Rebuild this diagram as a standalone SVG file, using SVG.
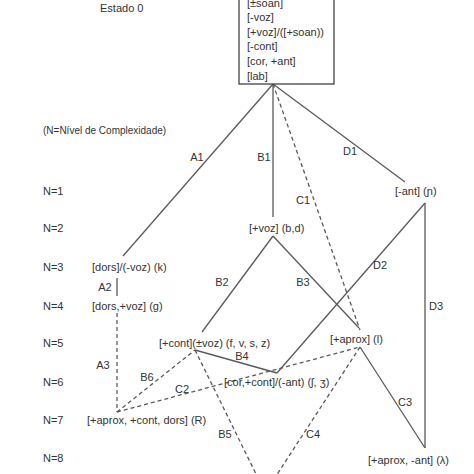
<svg xmlns="http://www.w3.org/2000/svg" width="474" height="474" viewBox="0 0 474 474">
<style>
text{font-family:"Liberation Sans",Arial,sans-serif;font-size:11px;fill:#333}
.lbl{text-anchor:middle}
.sm{font-size:10px}
.ln{stroke:#5a5a5a;stroke-width:1.3;fill:none}
.dash{stroke-dasharray:4 3}
</style>
<rect width="474" height="474" fill="#fff"/>
<g id="connectors">
<line class="ln" x1="273" y1="84" x2="123" y2="256"/>
<line class="ln" x1="273" y1="84" x2="273" y2="217"/>
<line class="ln" x1="273" y1="84" x2="405" y2="182"/>
<line class="ln dash" x1="273" y1="84" x2="360" y2="330"/>
<line class="ln" x1="273" y1="236" x2="202" y2="332"/>
<line class="ln" x1="273" y1="236" x2="359" y2="328"/>
<line class="ln" x1="425" y1="203" x2="277" y2="373"/>
<line class="ln" x1="425" y1="203" x2="425" y2="448"/>
<line class="ln" x1="117" y1="278" x2="117" y2="296"/>
<line class="ln dash" x1="117" y1="313" x2="117" y2="412"/>
<line class="ln" x1="195" y1="350" x2="277" y2="373"/>
<line class="ln dash" x1="117" y1="412" x2="195" y2="350"/>
<line class="ln dash" x1="117" y1="412" x2="360" y2="347"/>
<line class="ln dash" x1="195" y1="350" x2="257" y2="476"/>
<line class="ln dash" x1="360" y1="347" x2="276" y2="476"/>
<line class="ln" x1="360" y1="347" x2="425" y2="448"/>
<text class="lbl" x="197" y="161">A1</text>
<text class="lbl" x="264" y="161">B1</text>
<text class="lbl" x="350" y="155">D1</text>
<text class="lbl" x="303" y="204">C1</text>
<text class="lbl" x="105" y="291">A2</text>
<text class="lbl" x="222" y="286">B2</text>
<text class="lbl" x="303" y="286">B3</text>
<text class="lbl" x="380" y="269">D2</text>
<text class="lbl" x="436" y="310">D3</text>
<text class="lbl" x="103" y="369">A3</text>
<text class="lbl" x="242" y="360">B4</text>
<text class="lbl" x="147" y="381">B6</text>
<text class="lbl" x="182" y="393">C2</text>
<text class="lbl" x="405" y="406">C3</text>
<text class="lbl" x="225" y="438">B5</text>
<text class="lbl" x="313" y="438">C4</text>
</g>
<g id="legend">
<text x="100" y="12">Estado 0</text>
<text class="sm" x="43" y="134">(N=Nível de Complexidade)</text>
<text x="43" y="195">N=1</text>
<text x="43" y="232">N=2</text>
<text x="43" y="271">N=3</text>
<text x="43" y="310">N=4</text>
<text x="43" y="347">N=5</text>
<text x="43" y="386">N=6</text>
<text x="43" y="424">N=7</text>
<text x="43" y="462">N=8</text>
</g>
<g id="estado0">
<rect x="239" y="-10" width="95" height="94" fill="#fff" stroke="#333" stroke-width="1.2"/>
<text x="247" y="7">[±soan]</text>
<text x="247" y="21">[-voz]</text>
<text x="247" y="36">[+voz]/([+soan))</text>
<text x="247" y="50">[-cont]</text>
<text x="247" y="65">[cor, +ant]</text>
<text x="247" y="80">[lab]</text>
</g>
<g id="n-ant"><text x="395" y="195">[-ant] (ɲ)</text></g>
<g id="n-voz"><text x="249" y="232">[+voz] (b,d)</text></g>
<g id="n-dors-k"><text x="92" y="271">[dors]/(-voz) (k)</text></g>
<g id="n-dors-g"><text x="92" y="310">[dors,+voz] (g)</text></g>
<g id="n-cont"><text x="159" y="347">[+cont](±voz) (f, v, s, z)</text></g>
<g id="n-aprox"><text x="330" y="343">[+aprox] (l)</text></g>
<g id="n-cor"><text x="224" y="386">[cor,+cont]/(-ant) (ʃ, ʒ)</text></g>
<g id="n-R"><text x="87" y="424">[+aprox, +cont, dors] (R)</text></g>
<g id="n-lambda"><text x="368" y="464">[+aprox, -ant] (λ)</text></g>
</svg>
